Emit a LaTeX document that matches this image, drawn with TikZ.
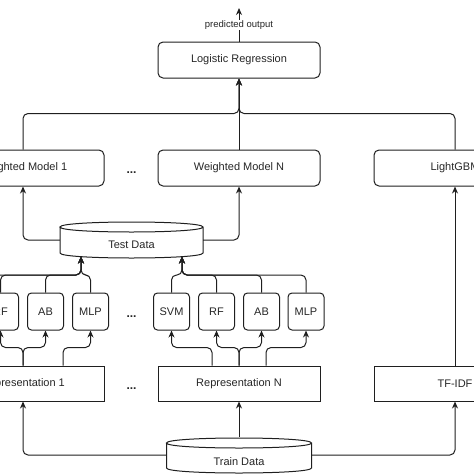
\documentclass[tikz,border=0pt]{standalone}
\usepackage{fontspec}
\setmainfont{Liberation Sans}
\usetikzlibrary{arrows.meta}
\def\drum[#1](#2,#3)(#4:#5:#6){\draw[#1] ({#2-#4},{#3}) -- ({#2-#4},{#3+#5}) .. controls ({#2-#4},{#3+#5+4*#6/3}) and ({#2+#4},{#3+#5+4*#6/3}) .. ({#2+#4},{#3+#5}) -- ({#2+#4},{#3}) .. controls ({#2+#4},{#3-4*#6/3}) and ({#2-#4},{#3-4*#6/3}) .. ({#2-#4},{#3}) .. controls ({#2-#4},{#3+4*#6/3}) and ({#2+#4},{#3+4*#6/3}) .. ({#2+#4},{#3});}

\tikzset{
	mbox/.style={draw=black!88, line width=1pt, rounded corners=5pt, minimum width=162pt, minimum height=36pt, font=\fontsize{11}{13}\selectfont, text=black!85},
	cbox/.style={mbox, rounded corners=4pt, minimum width=36pt, minimum height=37pt, inner sep=0pt},
	rbox/.style={mbox, sharp corners, minimum height=35pt},
	dbox/.style={inner sep=0pt, minimum height=36pt},
	lbl/.style={font=\fontsize{11}{13}\selectfont, text=black!85, inner sep=1pt},
	small/.style={font=\fontsize{9.5}{11}\selectfont, text=black!85, fill=white, inner sep=1pt},
	ellip/.style={font=\fontsize{12}{14}\selectfont\bfseries, text=black!85, inner sep=0pt},
	drumline/.style={draw=black!88, fill=white, line width=1pt},
	conn/.style={draw=black!88, line width=1pt, rounded corners=5pt, -{Stealth[length=7pt,width=6pt]}}
}

\begin{document}
\begin{tikzpicture}[x=1pt, y=-1pt]
			%%%%% START %%%%%
			\useasboundingbox (0,0) rectangle (474,474);
			\clip (0,0) rectangle (474,474);
			
			% top row
			\node[mbox] (lr) at (239,60) {Logistic Regression};
			\node[mbox] (wm1) at (23,168) {Weighted Model 1};
			\node[mbox] (wmn) at (239,168) {Weighted Model N};
			\node[mbox] (lgbm) at (455,168) {LightGBM};
			\node[ellip] (d1) at (131.5,173) {...};
			
			% test data
			\drum[drumline](131.5,227)(71.5:26:5)
			\node[dbox, minimum width=143pt] (test) at (131.5,240) {};
			\node[lbl] (testlbl) at (131.5,245) {Test Data};
			
			% classifiers
			\foreach \n/\t/\x in {svma/SVM/-44.5, rfa/RF/0.5, aba/AB/45.5, mlpa/MLP/90.5, svmb/SVM/171.5, rfb/RF/216.5, abb/AB/261.5, mlpb/MLP/306}
				\node[cbox] (\n) at (\x,311.5) {\t};
			\node[ellip] (d2) at (131.5,317) {...};
			
			% representations
			\node[rbox] (rep1) at (23,383.5) {Representation 1};
			\node[rbox] (repn) at (239,383.5) {Representation N};
			\node[rbox] (tfidf) at (455,383.5) {TF-IDF};
			\node[ellip] (d3) at (131.5,389) {...};
			
			% train data
			\drum[drumline](239,443)(72.5:25:5)
			\node[dbox, minimum width=145pt] (train) at (239,455) {};
			\node[lbl] (trainlbl) at (239,462) {Train Data};
			
			\coordinate (top) at (239,8);
			\coordinate (tina) at (81,256.5);
			\coordinate (tinb) at (182,256.5);
			
			% connectors
			\draw[conn] (lr.north) -- (top);
			\node[small] (pred) at (239,25) {predicted output};
			\draw[conn] (wmn.north) -- (lr.south);
			\draw[conn] (wm1.north) -- ++(0,-36) -| (lr.south);
			\draw[conn] (lgbm.north) -- ++(0,-36) -| (lr.south);
			
			\draw[conn] (test.west) -| (wm1.south);
			\draw[conn] (test.east) -| (wmn.south);
			
			\foreach \n in {svma,rfa,aba,mlpa}
				\draw[conn] (\n.north) |- ([yshift=-18.5pt]tina) -- (tina);
			\foreach \n in {svmb,rfb,abb,mlpb}
				\draw[conn] (\n.north) |- ([yshift=-18.5pt]tinb) -- (tinb);
			
			\foreach \n/\s in {svma/-40, rfa/0, aba/0, mlpa/40}
				\draw[conn] ([xshift=\s pt]rep1.north) -- ++(0,-18) -| (\n.south);
			\foreach \n/\s in {svmb/-27, rfb/0, abb/0, mlpb/27}
				\draw[conn] ([xshift=\s pt]repn.north) -- ++(0,-18) -| (\n.south);
			
			\draw[conn] (train.north) -- (repn.south);
			\draw[conn] (train.west) -| (rep1.south);
			\draw[conn] (train.east) -| (tfidf.south);
			\draw[conn] (tfidf.north) -- (lgbm.south);
			%%%%% END %%%%%
\end{tikzpicture}
\end{document}
